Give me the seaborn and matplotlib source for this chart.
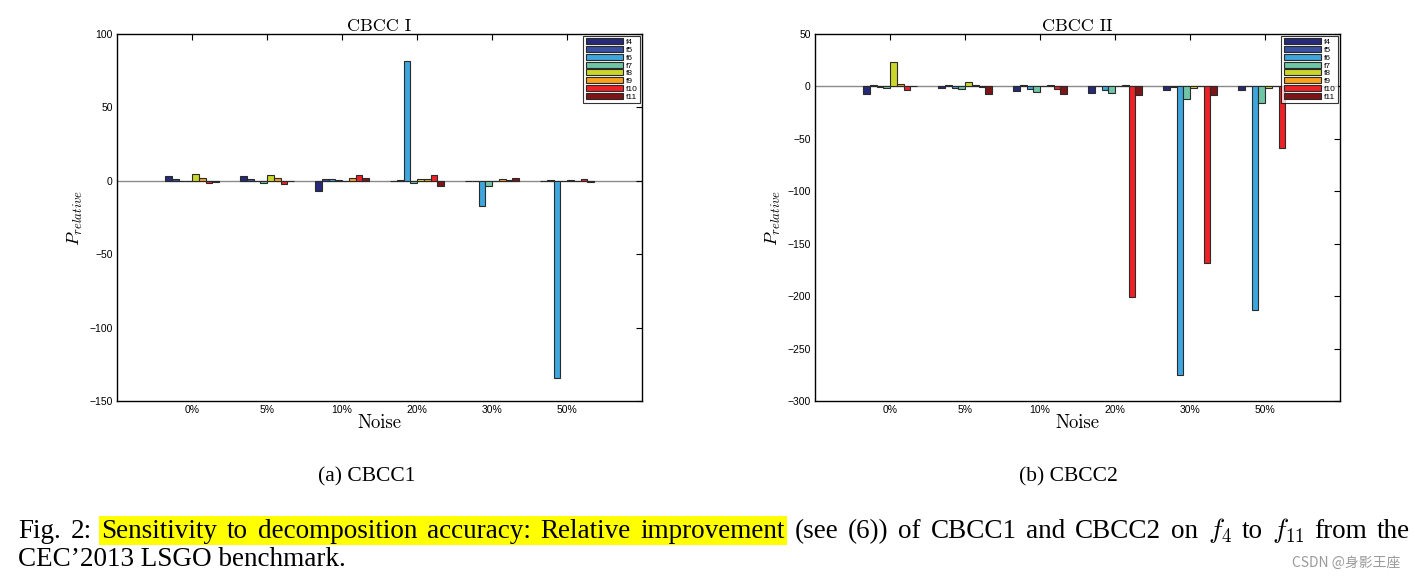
import numpy as np
import pandas as pd
import matplotlib
matplotlib.use('Agg')
import matplotlib.pyplot as plt
from matplotlib.patches import Patch, Rectangle
import seaborn as sns

# --- data ---
noise = ['0%', '5%', '10%', '20%', '30%', '50%']
funcs = ['f4', 'f5', 'f6', 'f7', 'f8', 'f9', 'f10', 'f11']

cbcc1 = {
    'f4':  [3.4, 3.4, -6.8, 0.1, 0.2, -0.3],
    'f5':  [1.1, 1.1, 1.1, 0.4, 0.2, 0.3],
    'f6':  [0.2, 0.2, 1.1, 81.5, -17.0, -134.3],
    'f7':  [0.2, -1.4, 0.3, -1.2, -3.4, -0.3],
    'f8':  [4.5, 3.9, 0.2, 0.9, 0.1, 0.5],
    'f9':  [1.6, 1.6, 1.6, 1.4, 1.1, -0.3],
    'f10': [-1.6, -2.5, 3.9, 3.9, 0.3, 1.1],
    'f11': [-0.5, -0.3, 1.8, -3.4, 2.0, -1.1],
}
cbcc2 = {
    'f4':  [-7.3, -1.9, -4.8, -6.0, -3.5, -3.0],
    'f5':  [1.6, 1.2, 1.6, 0.3, -0.5, 0.3],
    'f6':  [-0.5, -1.6, -2.9, -3.5, -275.5, -213.0],
    'f7':  [-1.9, -2.5, -5.4, -6.3, -12.0, -15.8],
    'f8':  [23.0, 4.1, 0.1, 0.2, -1.3, -1.8],
    'f9':  [2.2, 1.6, 1.2, 1.6, 0.3, 0.3],
    'f10': [-3.5, -0.5, -2.5, -200.8, -168.4, -58.5],
    'f11': [0.5, -7.6, -7.6, -8.3, -8.5, -1.0],
}

colors = ['#262a78', '#3a50a0', '#3ea6dc', '#6fc6a6',
          '#cbd62a', '#f7a11e', '#ed2226', '#7d1518']

sns.set_theme(style='white')
plt.rcParams['font.family'] = ['Liberation Sans', 'DejaVu Sans']
plt.rcParams['mathtext.fontset'] = 'cm'
plt.rcParams['text.color'] = 'black'
plt.rcParams['axes.labelcolor'] = 'black'


def to_long(d):
    df = pd.DataFrame(d, index=noise).reset_index().rename(columns={'index': 'noise'})
    return df.melt(id_vars='noise', var_name='func', value_name='value')


W, H = 1415, 580
fig = plt.figure(figsize=(W / 100, H / 100), dpi=100)
ax1 = fig.add_axes([117 / W, 1 - 401 / H, 525 / W, 367 / H])
ax2 = fig.add_axes([815 / W, 1 - 401 / H, 525 / W, 367 / H])

panels = [
    (ax1, cbcc1, 'CBCC I', (-150, 100), '(a) CBCC1', 367),
    (ax2, cbcc2, 'CBCC II', (-300, 50), '(b) CBCC2', 1068),
]

for ax, d, title, ylim, sub, cx in panels:
    df = to_long(d)
    sns.barplot(data=df, x='noise', y='value', hue='func', order=noise,
                hue_order=funcs, palette=colors, saturation=1, width=0.72,
                edgecolor='#2a2a2a', linewidth=0.8, errorbar=None,
                legend=False, ax=ax)
    ax.axhline(0, color='#8a8a8a', lw=1.0, zorder=0.5)
    ax.set_xlim(-1, 6)
    ax.set_ylim(*ylim)
    ax.set_yticks(np.arange(ylim[0], ylim[1] + 1, 50))
    ax.tick_params(direction='in', top=True, right=True, length=4,
                   width=0.8, labelsize=7.5, pad=3, colors='black')
    for s in ax.spines.values():
        s.set_color('black')
        s.set_linewidth(1.0)
    ax.set_title(title, family='cmr10', fontsize=13, pad=2)
    ax.set_xlabel('Noise', family='cmr10', fontsize=13.5, labelpad=-1)
    ax.set_ylabel(r'$P_{relative}$', fontsize=13, labelpad=3)
    handles = [Patch(facecolor=c, edgecolor='#2a2a2a', linewidth=0.8) for c in colors]
    leg = ax.legend(handles, funcs, loc='upper right', fontsize=6, frameon=True,
                    fancybox=False, handlelength=4.5, handleheight=0.7,
                    labelspacing=0.0, handletextpad=0.3, borderpad=0.3,
                    borderaxespad=0.2)
    leg.get_frame().set_edgecolor('black')
    leg.get_frame().set_linewidth(0.8)
    fig.text(cx / W, 1 - 481 / H, sub, family='Liberation Serif', fontsize=15.5,
             ha='center', va='baseline')

# caption, justified on the first line
serif = 'Liberation Serif'
line1 = ('Fig. 2: Sensitivity to decomposition accuracy: Relative improvement '
         '(see (6)) of CBCC1 and CBCC2 on $f_4$ to $f_{11}$ from the').split(' ')
renderer = fig.canvas.get_renderer()
x_left, x_right = 18, 1410
y1 = 1 - 538 / H
texts = [fig.text(0, y1, w, family=serif, fontsize=19.5, va='baseline', zorder=3)
         for w in line1]
widths = [t.get_window_extent(renderer).width for t in texts]
gap = (x_right - x_left - sum(widths)) / (len(texts) - 1)
x = x_left
xs = []
for t, w in zip(texts, widths):
    t.set_x(x / W)
    xs.append((x, w))
    x += w + gap

hl_start, hl_end = 2, line1.index('improvement')
hx0 = xs[hl_start][0] - 2
hx1 = xs[hl_end][0] + xs[hl_end][1] + 2
fig.patches.append(Rectangle((hx0 / W, 1 - 545 / H), (hx1 - hx0) / W, 29 / H,
                             transform=fig.transFigure, facecolor='#ffff00',
                             edgecolor='none', zorder=0))

fig.text(x_left / W, 1 - 566 / H, 'CEC\u20192013 LSGO benchmark.', family=serif,
         fontsize=19.5, va='baseline')
fig.text(1400 / W, 1 - 567 / H, 'CSDN @身影王座', fontsize=10, color='#9a9a9a',
         ha='right', va='baseline', family=['Noto Sans CJK SC', 'DejaVu Sans'])

fig.savefig('out.png', dpi=100)
